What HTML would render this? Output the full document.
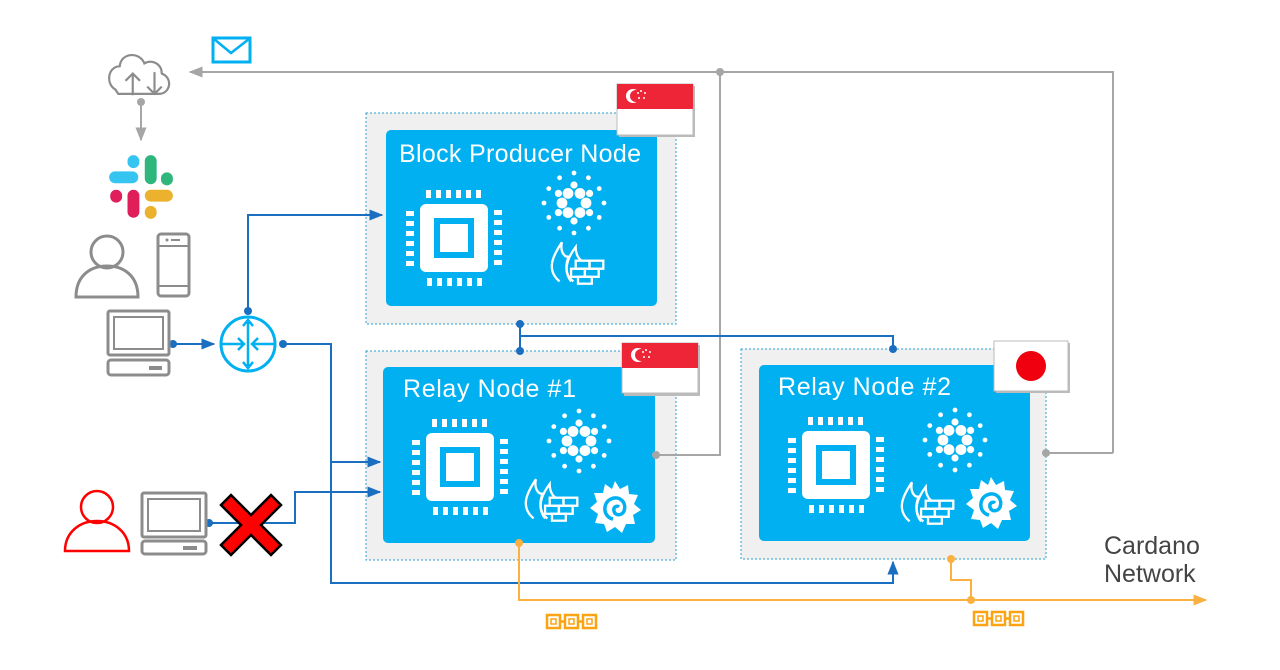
<!DOCTYPE html>
<html><head><meta charset="utf-8"><style>
html,body{margin:0;padding:0;background:#fff;}
svg{display:block;font-family:"Liberation Sans","DejaVu Sans",sans-serif;}
</style></head><body>
<svg width="1280" height="670" viewBox="0 0 1280 670" xmlns="http://www.w3.org/2000/svg">
<defs>
<marker id="ab" viewBox="0 0 10 10" refX="9" refY="5" markerWidth="7" markerHeight="7" orient="auto"><path d="M0,1 L10,5 L0,9 z" fill="#1a6fc0"/></marker>
<marker id="ag" viewBox="0 0 10 10" refX="9" refY="5" markerWidth="7" markerHeight="7" orient="auto"><path d="M0,1 L10,5 L0,9 z" fill="#a6a6a6"/></marker>
<marker id="ao" viewBox="0 0 10 10" refX="9" refY="5" markerWidth="7" markerHeight="7" orient="auto"><path d="M0,1 L10,5 L0,9 z" fill="#fbb040"/></marker>
<g id="cpu" fill="#fff">
<rect x="-34" y="-34" width="68" height="68" rx="6"/>
<rect x="-20" y="-20" width="40" height="40" fill="#00b0f0"/>
<rect x="-14" y="-14" width="28" height="28"/>
<g id="pt"><rect x="-28" y="-48" width="5" height="8"/><rect x="-18" y="-48" width="5" height="8"/><rect x="-8" y="-48" width="5" height="8"/><rect x="2" y="-48" width="5" height="8"/><rect x="12" y="-48" width="5" height="8"/><rect x="22" y="-48" width="5" height="8"/></g>
<use href="#pt" transform="rotate(180)"/>
<use href="#pt" transform="rotate(90)"/>
<use href="#pt" transform="rotate(-90)"/>
</g>
<g id="ada" fill="#fff">
<circle cx="-5" cy="-8" r="4.5"/><circle cx="5" cy="-8" r="4.5"/><circle cx="-10" cy="0" r="4.5"/><circle cx="10" cy="0" r="4.5"/><circle cx="-5" cy="8" r="4.5"/><circle cx="5" cy="8" r="4.5"/>
<circle cx="0" cy="-15" r="3"/><circle cx="0" cy="15" r="3"/><circle cx="-13" cy="-8" r="3"/><circle cx="13" cy="-8" r="3"/><circle cx="-13" cy="8" r="3"/><circle cx="13" cy="8" r="3"/>
<circle cx="0" cy="-25" r="2"/><circle cx="0" cy="25" r="2"/><circle cx="-25" cy="0" r="2"/><circle cx="25" cy="0" r="2"/>
<circle cx="-12" cy="-21" r="2"/><circle cx="12" cy="-21" r="2"/><circle cx="-12" cy="21" r="2"/><circle cx="12" cy="21" r="2"/>
<circle cx="-21" cy="-12" r="2"/><circle cx="21" cy="-12" r="2"/><circle cx="-21" cy="12" r="2"/><circle cx="21" cy="12" r="2"/>
</g>
<g id="fw" fill="none" stroke="#fff" stroke-width="2">
<path d="M-16,16 C-28,6 -22,-6 -14,-18 C-16,-8 -10,-4 -8,-6 C-12,4 -10,12 -4,16"/>
<path d="M-6,16 C-14,6 -8,-6 -2,-14 C-2,-6 2,-2 4,-2"/>
<rect x="-2" y="-2" width="12" height="7"/><rect x="10" y="-2" width="12" height="7"/><rect x="-6" y="5" width="12" height="7"/><rect x="6" y="5" width="12" height="7"/><rect x="0" y="12" width="12" height="6"/>
</g>
<g id="gf">
<path fill="#fff" d="M0,-26 L5,-18 L13,-22 L14,-13 L23,-12 L19,-3 L26,3 L18,8 L20,17 L11,17 L7,26 L0,20 L-8,25 L-11,17 L-20,16 L-17,7 L-25,1 L-18,-5 L-21,-14 L-12,-14 L-10,-23 L-3,-18 Z"/>
<path fill="none" stroke="#00b0f0" stroke-width="3.5" d="M-2,12 C-12,10 -13,-4 -4,-8 C5,-12 12,-4 9,4 C7,9 0,9 -1,4 C-2,0 2,-2 4,0"/>
</g>
<g id="chain" fill="none" stroke="#fca311" stroke-width="2.5">
<rect x="1" y="1" width="13" height="13"/><rect x="19" y="1" width="13" height="13"/><rect x="37" y="1" width="13" height="13"/>
<rect x="5" y="5" width="5" height="5" stroke-width="1.5"/><rect x="23" y="5" width="5" height="5" stroke-width="1.5"/><rect x="41" y="5" width="5" height="5" stroke-width="1.5"/>
<path d="M14,7.5 H19 M32,7.5 H37"/>
</g>
</defs>

<rect x="366" y="113" width="310" height="211" fill="#f0f0f0" stroke="#2a9fd6" stroke-dasharray="2,2"/>
<rect x="386" y="130" width="271" height="176" rx="5" fill="#00b0f0"/>
<rect x="366" y="351" width="310" height="209" fill="#f0f0f0" stroke="#2a9fd6" stroke-dasharray="2,2"/>
<rect x="383" y="367" width="272" height="176" rx="5" fill="#00b0f0"/>
<rect x="741" y="349" width="305" height="210" fill="#f0f0f0" stroke="#2a9fd6" stroke-dasharray="2,2"/>
<rect x="759" y="365" width="271" height="176" rx="5" fill="#00b0f0"/>

<text x="399" y="162" fill="#fff" font-size="25" textLength="242" lengthAdjust="spacing">Block Producer Node</text>
<text x="403" y="397" fill="#fff" font-size="25" textLength="173" lengthAdjust="spacing">Relay Node #1</text>
<text x="778" y="395" fill="#fff" font-size="25" textLength="173" lengthAdjust="spacing">Relay Node #2</text>

<use href="#cpu" transform="translate(454,238)"/>
<use href="#cpu" transform="translate(460,467)"/>
<use href="#cpu" transform="translate(836,465)"/>
<use href="#ada" transform="translate(574,203) scale(1.2)"/>
<use href="#ada" transform="translate(579,441) scale(1.2)"/>
<use href="#ada" transform="translate(955,440) scale(1.2)"/>
<use href="#fw" transform="translate(578,263) scale(1.15)"/>
<use href="#fw" transform="translate(552,500) scale(1.15)"/>
<use href="#fw" transform="translate(928,503) scale(1.15)"/>
<use href="#gf" transform="translate(615,507)"/>
<use href="#gf" transform="translate(991,503)"/>

<g>
<rect x="619" y="86" width="76" height="51" fill="#bbb"/>
<rect x="617" y="84" width="76" height="51" fill="#fff" stroke="#bbb"/>
<rect x="617" y="84" width="76" height="25" fill="#ee2536"/>
<circle cx="633" cy="96" r="7" fill="#fff"/><circle cx="636" cy="96" r="6" fill="#ee2536"/>
<g fill="#fff"><circle cx="641" cy="91" r="1"/><circle cx="645" cy="93" r="1"/><circle cx="644" cy="98" r="1"/><circle cx="639" cy="98" r="1"/><circle cx="638" cy="93" r="1"/></g>
</g>
<g>
<rect x="624" y="345" width="76" height="51" fill="#bbb"/>
<rect x="622" y="343" width="76" height="50" fill="#fff" stroke="#bbb"/>
<rect x="622" y="343" width="76" height="25" fill="#ee2536"/>
<circle cx="638" cy="355" r="7" fill="#fff"/><circle cx="641" cy="355" r="6" fill="#ee2536"/>
<g fill="#fff"><circle cx="646" cy="350" r="1"/><circle cx="650" cy="352" r="1"/><circle cx="649" cy="357" r="1"/><circle cx="644" cy="357" r="1"/><circle cx="643" cy="352" r="1"/></g>
</g>
<g>
<rect x="996" y="343" width="74" height="50" fill="#bbb"/>
<rect x="994" y="341" width="74" height="50" fill="#fff" stroke="#bbb"/>
<circle cx="1031" cy="366" r="15" fill="#f0000f"/>
</g>

<g stroke="#a6a6a6" stroke-width="2" fill="none">
<path d="M1113,453 H1046"/>
<path d="M1113,453 V72 H190" marker-end="url(#ag)"/>
<path d="M720,72 V455 H656"/>
<path d="M141,102 V140" marker-end="url(#ag)"/>
</g>
<g fill="#a6a6a6"><circle cx="720" cy="72" r="4"/><circle cx="656" cy="455" r="4"/><circle cx="1046" cy="453" r="4"/><circle cx="141" cy="102" r="4"/></g>

<g stroke="#1a6fc0" stroke-width="2" fill="none">
<path d="M520,324 V351"/>
<path d="M520,336 H893 V349"/>
<path d="M248,311 V215 H382" marker-end="url(#ab)"/>
<path d="M173,344 H214" marker-end="url(#ab)"/>
<path d="M283,344 H331 V583 H893 V562" marker-end="url(#ab)"/>
<path d="M331,462 H380" marker-end="url(#ab)"/>
<path d="M209,523 H295 V492 H380" marker-end="url(#ab)"/>
</g>
<g fill="#1a6fc0"><circle cx="520" cy="324" r="4"/><circle cx="520" cy="351" r="4"/><circle cx="893" cy="349" r="4"/><circle cx="248" cy="311" r="4"/><circle cx="173" cy="344" r="4"/><circle cx="283" cy="344" r="4"/><circle cx="209" cy="523" r="4"/></g>

<g stroke="#fbb040" stroke-width="2" fill="none">
<path d="M519,543 V600 H1206" marker-end="url(#ao)"/>
<path d="M951,559 V580 H971 V600"/>
</g>
<g fill="#fbb040"><circle cx="519" cy="543" r="4"/><circle cx="951" cy="559" r="4"/><circle cx="971" cy="600" r="4"/></g>
<use href="#chain" transform="translate(546,614)"/>
<use href="#chain" transform="translate(973,611)"/>

<text x="1104" y="554" fill="#444" font-size="25">Cardano</text>
<text x="1104" y="582" fill="#444" font-size="25">Network</text>

<rect x="213" y="38" width="37" height="24" fill="none" stroke="#00b0f0" stroke-width="3"/>
<path d="M214,39 L231,53 L249,39" fill="none" stroke="#00b0f0" stroke-width="2.5"/>

<g transform="translate(140,75) scale(1.45) translate(-137,-74)">
<path d="M122,87 H150 C158,87 160,76 152,73 C152,66 145,63 140,66 C137,58 124,58 123,68 C115,68 113,80 120,84 Z" fill="none" stroke="#8c8c8c" stroke-width="1.5"/>
<path d="M132,88 V73 M127,78 L132,73 L137,78 M147,72 V87 M142,82 L147,87 L152,82" fill="none" stroke="#8c8c8c" stroke-width="1.5"/>
</g>

<g transform="translate(141,187) scale(1.08) translate(-141,-188)">
<g stroke-linecap="round" stroke-width="11" fill="none">
<path d="M117,179 H133" stroke="#36c5f0"/><path d="M134,164 V165" stroke="#36c5f0"/>
<path d="M150,164 V180" stroke="#2eb67d"/><path d="M165,180 V181" stroke="#2eb67d"/>
<path d="M134,196 V211" stroke="#e01e5a"/><path d="M118,196 V197" stroke="#e01e5a"/>
<path d="M150,196 H165" stroke="#ecb22e"/><path d="M150,211 V212" stroke="#ecb22e"/>
</g></g>

<circle cx="107" cy="252" r="16" fill="none" stroke="#8c8c8c" stroke-width="3"/>
<path d="M76,297 C76,276 90,266 107,266 C124,266 138,276 138,297 Z" fill="none" stroke="#8c8c8c" stroke-width="3"/>
<rect x="158" y="234" width="31" height="62" rx="3" fill="none" stroke="#8c8c8c" stroke-width="3"/>
<path d="M158,246 H189 M158,286 H189" stroke="#8c8c8c" stroke-width="2"/>
<circle cx="167" cy="240" r="1.5" fill="#8c8c8c"/><path d="M171,240 H180" stroke="#8c8c8c" stroke-width="2"/>

<rect x="108" y="311" width="61" height="44" rx="2" fill="none" stroke="#8c8c8c" stroke-width="3"/>
<rect x="114" y="317" width="49" height="32" fill="none" stroke="#8c8c8c" stroke-width="2"/>
<rect x="108" y="360" width="61" height="15" rx="3" fill="none" stroke="#8c8c8c" stroke-width="3"/>
<rect x="149" y="366" width="13" height="4" fill="#8c8c8c"/>

<circle cx="248" cy="344" r="27" fill="#fff" stroke="#00b0f0" stroke-width="3"/>
<g stroke="#00b0f0" stroke-width="2.5" fill="none">
<path d="M248,320 V368 M243,326 L248,320 L253,326 M243,362 L248,368 L253,362"/>
<path d="M222,344 H244 M238,338 L244,344 L238,350 M274,344 H252 M258,338 L252,344 L258,350"/>
</g>

<circle cx="97" cy="507" r="16" fill="none" stroke="#ff0000" stroke-width="2.5"/>
<path d="M65,551 C65,532 80,521 97,521 C114,521 129,532 129,551 Z" fill="none" stroke="#ff0000" stroke-width="2.5"/>
<rect x="142" y="493" width="64" height="44" rx="2" fill="none" stroke="#8c8c8c" stroke-width="3"/>
<rect x="148" y="499" width="52" height="32" fill="none" stroke="#8c8c8c" stroke-width="2"/>
<rect x="142" y="541" width="64" height="13" rx="3" fill="none" stroke="#8c8c8c" stroke-width="3"/>
<rect x="183" y="546" width="14" height="4" fill="#8c8c8c"/>
<path d="M221,505 L231,495 L251,515 L271,495 L281,505 L261,525 L281,545 L271,555 L251,535 L231,555 L221,545 L241,525 Z" fill="#ff0000" stroke="#000" stroke-width="2.5"/>
</svg>
</body></html>
